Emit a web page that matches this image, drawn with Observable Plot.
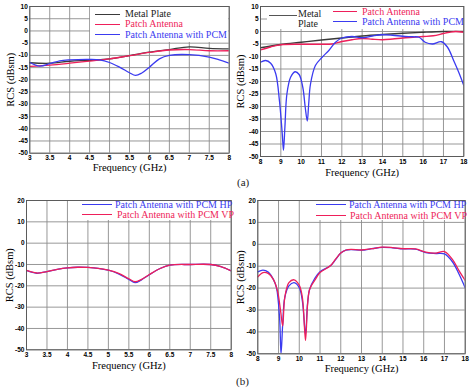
<!DOCTYPE html>
<html><head><meta charset="utf-8">
<script src="https://cdn.jsdelivr.net/npm/d3@7"></script>
<script src="https://cdn.jsdelivr.net/npm/@observablehq/plot@0.6"></script>
<style>
body{margin:0;background:#fff;}
#root{position:relative;width:474px;height:392px;overflow:hidden;background:#fff;}
.pan{position:absolute;}
.leg{position:absolute;background:#fff;}
.txt{position:absolute;white-space:nowrap;font-family:"Liberation Serif","Times New Roman",serif;font-size:10px;line-height:12px;}
.ln{position:absolute;height:0;border-top:1.4px solid;}
svg [aria-label="x-axis label"], svg [aria-label="y-axis label"],
svg [aria-label="x-axis label"] text, svg [aria-label="y-axis label"] text{font-family:"Liberation Serif","Times New Roman",serif !important;font-size:10.5px !important;font-weight:normal !important;}
svg [aria-label$="tick label"], svg [aria-label$="tick label"] text{font-family:"Liberation Sans",Arial,sans-serif !important;font-size:6.5px !important;font-weight:bold !important;}
</style></head><body><div id="root"></div>
<script>
// ---------- data ----------
const xTicksLow = [3,3.5,4,4.5,5,5.5,6,6.5,7,7.5,8];
const xTicksHigh = [8,9,10,11,12,13,14,15,16,17,18];
const yTicksA = [10,5,0,-5,-10,-15,-20,-25,-30,-35,-40,-45,-50];
const yTicksB = [20,10,0,-10,-20,-30,-40,-50];

// (a) left: 3–8 GHz
const a1Freq = [3,3.5,4,4.5,5,5.5,6,6.5,7,7.5,8];
const a1Metal = [-13,-13.2,-12.4,-12,-11.4,-10.1,-8.7,-7.6,-6.5,-7.1,-7.3];
const a1Patch = [-14.5,-14,-13.2,-12.3,-11.4,-10.1,-8.8,-7.8,-7.6,-8.1,-8.1];
const a1PcmFreq = [3,3.25,3.5,3.75,4,4.5,4.75,5,5.25,5.5,5.65,5.8,6,6.25,6.5,7,7.5,7.75,8];
const a1Pcm = [-12.9,-14.4,-13.4,-12.2,-11.8,-11.6,-11.8,-12.9,-14.8,-17.1,-18.2,-17.3,-14.8,-11.4,-10,-9.7,-10.7,-11.8,-13.2];

// (a) right: 8–18 GHz
const a2Freq = [8,9,10,11,12,13,14,15,16,17,18];
const a2Metal = [-6.5,-5.2,-4.3,-3.4,-2.6,-1.8,-1.2,-0.7,-0.3,0,0];
const a2PatchFreq = [8,8.5,9,10,11,11.5,12,12.5,13,13.5,14,14.5,15,15.5,16,16.5,17,17.3,17.6,18];
const a2Patch = [-7.4,-6.2,-5.3,-5.1,-5.1,-5,-4,-3.3,-2.8,-3.1,-3.3,-3,-2.6,-2.3,-2,-1.7,-0.8,-0.3,0,-0.3];
const a2PcmFreq = [8,8.25,8.5,8.75,8.93,9.07,9.13,9.2,9.3,9.48,9.7,9.9,10.08,10.2,10.3,10.37,10.46,10.7,11.03,11.36,11.69,12,12.5,13,13.5,14,14.5,15,15.5,15.8,16.1,16.45,16.9,17.2,17.5,17.75,18];
const a2Pcm = [-12.3,-11.6,-12.7,-16.9,-27.6,-40.9,-47.5,-38.3,-24.9,-18.3,-16.1,-17.2,-22.3,-30.3,-35.8,-29,-21,-13.6,-10.3,-7.6,-4.3,-2.6,-2,-2.5,-1.8,-1.3,-1.5,-1.9,-2.1,-2.3,-4.3,-5,-4.1,-6.3,-11.6,-16.3,-21.6];

// (b) left: 3–8 GHz
const b1Freq = [3,3.25,3.5,3.75,4,4.25,4.5,4.75,5,5.25,5.5,5.65,5.8,6,6.25,6.5,7,7.5,7.75,8];
const b1HP = [-12.8,-14.1,-13.3,-12.3,-11.6,-11.3,-11.4,-11.8,-12.7,-14.4,-17,-18.5,-17.3,-14.8,-12,-10.3,-10,-10,-11,-13];
const b1VP = [-12.8,-14,-13.3,-12.3,-11.6,-11.3,-11.4,-11.8,-12.7,-14.2,-16.7,-18.1,-17.1,-14.7,-12,-10.3,-10,-10,-11,-13];

// (b) right: 8–18 GHz
const b2HPFreq = [8,8.25,8.5,8.75,8.9,9.05,9.12,9.2,9.3,9.5,9.75,10,10.15,10.3,10.4,10.5,10.75,11,11.5,11.75,12,12.25,12.5,13,13.5,14,14.5,15,15.6,16.1,16.6,17,17.4,17.7,18];
const b2HP = [-12.6,-11.8,-12.7,-16,-19.8,-33.5,-50,-36.6,-24.3,-19,-17.5,-19.8,-25.9,-41,-27,-20.5,-15.5,-12.5,-9.8,-7,-4,-2.7,-2.4,-2.7,-2,-1.4,-1.6,-2.1,-2.2,-3.8,-4.2,-4.4,-8.2,-13.6,-19.9];
const b2VPFreq = [8,8.25,8.5,8.75,8.95,9.1,9.2,9.3,9.5,9.75,10,10.15,10.3,10.4,10.5,10.75,11,11.5,11.75,12,12.25,12.5,13,13.5,14,14.5,15,15.6,16.1,16.6,17,17.4,17.7,18];
const b2VP = [-14.9,-12.9,-13.3,-16,-21.3,-30.5,-37.3,-24.3,-17.5,-16.2,-18.7,-24.3,-43.9,-27.4,-20.5,-16.4,-12.9,-9.8,-6.8,-4,-2.6,-2.3,-2.6,-2,-1.3,-1.5,-2,-2.1,-3.6,-4,-3.3,-7.1,-12,-16.5];

const BLACK = "#3a3a3a", RED = "#ee1f5a", BLUE = "#3b3bf0";

// ---------- drawing ----------
const root = document.getElementById("root");
const toRows = (xs, ys) => xs.map((x, i) => ({x, y: ys[i]}));

function panel(cfg) {
  const {left, top, width, height, fx0, fx1, fy0, fy1, xDomain, xTicks, yDomain, yTicks, series, xlo, ylo} = cfg;
  const marks = [
    Plot.gridX(xTicks, {stroke: "#8c8c8c", strokeOpacity: 1, strokeWidth: 0.9}),
    Plot.gridY(yTicks, {stroke: "#8c8c8c", strokeOpacity: 1, strokeWidth: 0.9}),
    Plot.axisX(xTicks, {tickSize: 0, tickPadding: 2.5, tickFormat: d => String(d),
      label: "Frequency (GHz)", labelAnchor: "center", labelOffset: xlo, labelArrow: "none"}),
    Plot.axisY(yTicks, {tickSize: 0, tickPadding: 2, tickFormat: d => String(d),
      label: "RCS (dBsm)", labelAnchor: "center", labelOffset: ylo, labelArrow: "none"}),
    ...series.map(s => Plot.line(toRows(s.x, s.y), {x: "x", y: "y", stroke: s.color, strokeWidth: 1.3, curve: "catmull-rom", clip: true})),
    Plot.frame({stroke: "#555", strokeWidth: 0.9})
  ];
  const svg = Plot.plot({
    width, height,
    marginLeft: fx0 - left, marginRight: left + width - fx1,
    marginTop: fy0 - top, marginBottom: top + height - fy1,
    x: {domain: xDomain}, y: {domain: yDomain},
    style: {background: "transparent", overflow: "visible", fontFamily: "Liberation Serif, Times New Roman, serif"},
    marks
  });
  const d = document.createElement("div");
  d.className = "pan";
  d.style.left = left + "px"; d.style.top = top + "px";
  d.appendChild(svg);
  root.appendChild(d);
}

function box(x0, y0, x1, y1) {
  const d = document.createElement("div");
  d.className = "leg";
  Object.assign(d.style, {left: x0 + "px", top: y0 + "px", width: (x1 - x0) + "px", height: (y1 - y0) + "px"});
  root.appendChild(d);
}
function lineSample(x0, x1, y, color) {
  const d = document.createElement("div");
  d.className = "ln";
  Object.assign(d.style, {left: x0 + "px", top: (y - 0.7) + "px", width: (x1 - x0) + "px", borderColor: color});
  root.appendChild(d);
}
function label(x, cy, text, color, size) {
  const d = document.createElement("div");
  d.className = "txt";
  d.textContent = text;
  Object.assign(d.style, {left: x + "px", top: (cy - 6) + "px", color});
  if (size) d.style.fontSize = size + "px";
  root.appendChild(d);
}

// (a) left
panel({left: 0, top: 0, width: 234, height: 182, fx0: 29.3, fx1: 228.7, fy0: 6, fy1: 152.7,
  xDomain: [3, 8], xTicks: xTicksLow, yDomain: [-50, 10], yTicks: yTicksA, xlo: 18, ylo: 23,
  series: [{x: a1Freq, y: a1Metal, color: BLACK}, {x: a1Freq, y: a1Patch, color: RED}, {x: a1PcmFreq, y: a1Pcm, color: BLUE}]});
// (a) right
panel({left: 234, top: 0, width: 240, height: 182, fx0: 260, fx1: 463.3, fy0: 6, fy1: 156,
  xDomain: [8, 18], xTicks: xTicksHigh, yDomain: [-50, 10], yTicks: yTicksA, xlo: 19, ylo: 24,
  series: [{x: a2Freq, y: a2Metal, color: BLACK}, {x: a2PatchFreq, y: a2Patch, color: RED}, {x: a2PcmFreq, y: a2Pcm, color: BLUE}]});
// (b) left
panel({left: 0, top: 190, width: 234, height: 182, fx0: 26, fx1: 230.7, fy0: 200, fy1: 349.3,
  xDomain: [3, 8], xTicks: xTicksLow, yDomain: [-50, 20], yTicks: yTicksB, xlo: 19, ylo: 21,
  series: [{x: b1Freq, y: b1HP, color: BLUE}, {x: b1Freq, y: b1VP, color: RED}]});
// (b) right
panel({left: 234, top: 190, width: 240, height: 190, fx0: 257.3, fx1: 464.7, fy0: 200, fy1: 353.3,
  xDomain: [8, 18], xTicks: xTicksHigh, yDomain: [-50, 20], yTicks: yTicksB, xlo: 18, ylo: 21,
  series: [{x: b2HPFreq, y: b2HP, color: BLUE}, {x: b2VPFreq, y: b2VP, color: RED}]});

// legends
box(90, 6.5, 228.2, 42);
lineSample(95, 120, 14.3, BLACK); label(125, 14, "Metal Plate", "#222");
lineSample(95, 120, 24.3, RED); label(125, 24.3, "Patch Antenna", RED);
lineSample(95, 120, 34.7, BLUE); label(125, 34.7, "Patch Antenna with PCM", BLUE);

box(267, 6.5, 462.8, 29);
lineSample(269, 297, 16, "#555"); label(298, 13.5, "Metal", "#222"); label(298, 24, "Plate", "#222");
lineSample(333, 357, 12, RED); label(362, 12, "Patch Antenna", RED);
lineSample(333, 357, 22, BLUE); label(362, 22, "Patch Antenna with PCM", BLUE);

box(80, 200.5, 230.2, 220);
lineSample(82, 112, 205, BLUE); label(115, 205, "Patch Antenna with PCM HP", BLUE);
lineSample(82, 112, 215, RED); label(117, 215, "Patch Antenna with PCM VP", RED);

box(312, 200.5, 464.2, 220);
lineSample(316, 346, 205, BLUE); label(349, 205, "Patch Antenna with PCM HP", BLUE);
lineSample(316, 346, 216, RED); label(350, 216, "Patch Antenna with PCM VP", RED);

label(237, 182, "(a)", "#222", 11);
label(236, 381, "(b)", "#222", 11);
</script></body></html>
